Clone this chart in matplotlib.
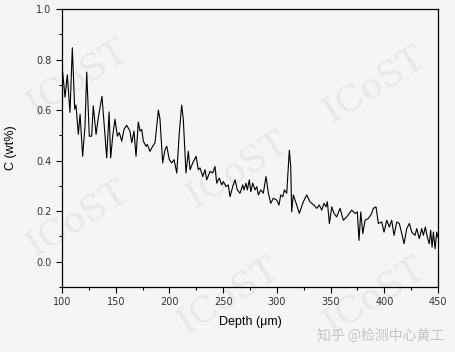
import matplotlib.pyplot as plt
from matplotlib.ticker import MultipleLocator

# depth profile
depth = [100.6, 102.8, 104.9, 107.4, 109.6, 111.8, 113.0, 115.2, 116.8, 119.2,
         121.4, 123.0, 125.4, 127.6, 129.1, 131.7, 133.8, 137.2, 141.6, 143.8,
         145.3, 147.2, 149.3, 151.5, 153.3, 155.6, 157.7, 160.2, 163.3, 164.9,
         167.0, 168.9, 171.0, 172.6, 174.2, 175.7, 178.2, 179.4, 181.9, 184.4,
         186.6, 189.7, 191.2, 193.7, 195.9, 197.5, 199.9, 202.1, 204.3, 206.8,
         209.2, 211.4, 212.9, 215.4, 217.6, 219.2, 221.7, 224.8, 226.9, 228.5,
         231.0, 233.1, 234.7, 237.8, 240.3, 242.4, 244.0, 246.4, 248.7, 250.2,
         252.7, 254.8, 256.4, 258.9, 261.1, 263.2, 265.7, 268.2, 269.4, 271.3,
         272.5, 274.4, 275.7, 277.5, 279.7, 281.3, 282.8, 285.0, 287.4, 289.9,
         292.1, 294.3, 296.7, 299.9, 302.0, 303.6, 305.5, 307.0, 309.2, 311.6,
         312.9, 313.8, 315.3, 318.5, 320.9, 324.6, 327.8, 330.9, 332.5, 334.6,
         337.1, 339.5, 341.8, 343.9, 345.8, 347.0, 348.9, 351.1, 353.2, 355.7,
         358.8, 361.9, 365.0, 369.7, 372.8, 374.9, 376.5, 378.1, 380.0, 382.1,
         385.2, 388.3, 389.8, 392.3, 394.5, 397.6, 399.8, 402.3, 404.7, 406.9,
         409.1, 411.6, 414.0, 416.3, 418.4, 420.9, 423.4, 425.6, 428.6, 430.2,
         432.6, 434.9, 436.4, 438.2, 440.1, 441.9, 443.2, 444.5, 445.7, 447.3,
         448.8, 450.0]
carbon = [0.751, 0.651, 0.740, 0.591, 0.847, 0.604, 0.620, 0.504, 0.584, 0.417,
          0.537, 0.751, 0.497, 0.497, 0.617, 0.504, 0.571, 0.655, 0.411, 0.593,
          0.411, 0.497, 0.564, 0.497, 0.511, 0.477, 0.524, 0.540, 0.517, 0.471,
          0.517, 0.417, 0.553, 0.517, 0.524, 0.477, 0.457, 0.464, 0.437, 0.457,
          0.471, 0.600, 0.564, 0.391, 0.444, 0.457, 0.404, 0.391, 0.404, 0.351,
          0.511, 0.620, 0.564, 0.351, 0.437, 0.364, 0.391, 0.417, 0.364, 0.371,
          0.337, 0.364, 0.324, 0.357, 0.351, 0.377, 0.311, 0.331, 0.304, 0.317,
          0.297, 0.304, 0.257, 0.297, 0.324, 0.284, 0.271, 0.304, 0.284, 0.311,
          0.284, 0.324, 0.277, 0.311, 0.284, 0.297, 0.264, 0.284, 0.271, 0.337,
          0.271, 0.231, 0.251, 0.244, 0.224, 0.264, 0.257, 0.284, 0.271, 0.441,
          0.377, 0.197, 0.264, 0.224, 0.191, 0.237, 0.264, 0.237, 0.231, 0.224,
          0.211, 0.224, 0.204, 0.231, 0.217, 0.237, 0.151, 0.217, 0.191, 0.177,
          0.211, 0.164, 0.177, 0.204, 0.191, 0.197, 0.084, 0.197, 0.111, 0.164,
          0.171, 0.191, 0.211, 0.217, 0.151, 0.157, 0.117, 0.164, 0.137, 0.164,
          0.104, 0.157, 0.151, 0.111, 0.071, 0.131, 0.151, 0.117, 0.104, 0.131,
          0.091, 0.131, 0.104, 0.137, 0.097, 0.071, 0.124, 0.057, 0.117, 0.051,
          0.117, 0.097]

bg = "#f7f4f4"
fig = plt.figure(figsize=(4.56, 3.52), dpi=100, facecolor=bg)
ax = fig.add_axes([0.136, 0.185, 0.8245, 0.789])
ax.set_facecolor("none")

# faint watermark text, kept behind the axes
marks = [(0.17, 0.78), (0.17, 0.38), (0.52, 0.52), (0.82, 0.76), (0.50, 0.16), (0.82, 0.16)]
for mx, my in marks:
    fig.text(mx, my, "ICoST", fontsize=26, family="DejaVu Serif", color="#ebe7e7",
             rotation=32, ha="center", va="center", zorder=-1)

ax.plot(depth, carbon, color="black", lw=0.8)

ax.set_xlim(100, 450)
ax.set_ylim(-0.1, 1.0)
ax.xaxis.set_major_locator(MultipleLocator(50))
ax.xaxis.set_minor_locator(MultipleLocator(25))
ax.yaxis.set_major_locator(MultipleLocator(0.2))
ax.yaxis.set_minor_locator(MultipleLocator(0.1))
ax.yaxis.set_major_formatter(plt.FuncFormatter(lambda v, p: f"{v:.1f}"))
ax.tick_params(which="major", direction="out", length=4, width=0.8, labelsize=7,
               labelcolor="#333333")
ax.tick_params(which="minor", direction="out", length=2.5, width=0.8)
for s in ax.spines.values():
    s.set_linewidth(0.9)

ax.set_xlabel("Depth (\u03bcm)", fontsize=9, family="Liberation Sans", labelpad=6)
ax.set_ylabel("C (wt%)", fontsize=9, family="Liberation Sans", labelpad=14)

fig.text(0.975, 0.045, "知乎 @检测中心黄工", fontsize=10, color="#c8c4c4",
         family=["Noto Sans CJK SC", "DejaVu Sans"], ha="right", va="center")

fig.savefig("out.png", dpi=100, facecolor=bg)
